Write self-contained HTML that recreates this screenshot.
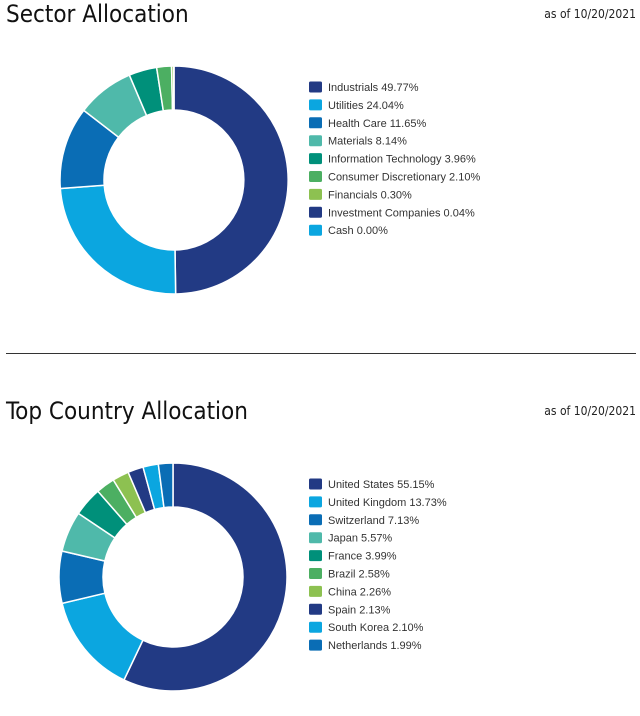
<!DOCTYPE html>
<html><head><meta charset="utf-8"><style>
body{margin:0;background:#fff;width:640px;height:711px;overflow:hidden;font-family:"Liberation Sans","DejaVu Sans",sans-serif;}
</style></head><body>
<svg id="s" width="640" height="711" xmlns="http://www.w3.org/2000/svg">
<text x="6" y="22" font-size="24" fill="#111" font-family="DejaVu Sans Condensed, Liberation Sans Narrow, sans-serif">Sector Allocation</text>
<text x="636" y="18" font-size="12" fill="#222" text-anchor="end" font-family="DejaVu Sans Condensed, Liberation Sans, sans-serif">as of 10/20/2021</text>
<line x1="6" y1="353.5" x2="636" y2="353.5" stroke="#333" stroke-width="1"/>
<text x="6" y="419" font-size="24" fill="#111" font-family="DejaVu Sans Condensed, Liberation Sans Narrow, sans-serif">Top Country Allocation</text>
<text x="636" y="415" font-size="12" fill="#222" text-anchor="end" font-family="DejaVu Sans Condensed, Liberation Sans, sans-serif">as of 10/20/2021</text>
<g id="g1"></g><g id="g2"></g>
</svg>
<script>
const sectorLabels=["Industrials","Utilities","Health Care","Materials","Information Technology","Consumer Discretionary","Financials","Investment Companies","Cash"];
const sectorValues=[49.77,24.04,11.65,8.14,3.96,2.10,0.30,0.04,0.00];
const countryLabels=["United States","United Kingdom","Switzerland","Japan","France","Brazil","China","Spain","South Korea","Netherlands"];
const countryValues=[55.15,13.73,7.13,5.57,3.99,2.58,2.26,2.13,2.10,1.99];
const colors=["#223a84","#0ba6e0","#0a6db5","#4fb9aa","#00907a","#4caf62","#8dc151","#223a84","#0ba6e0","#0a6db5"];
const NS="http://www.w3.org/2000/svg";
function draw(gid,labels,values,cx,cy,ro,ri,lx,ly,name){
  const g=document.getElementById(gid);
  const tot=values.reduce((a,b)=>a+b,0);
  let a0=-Math.PI/2;
  values.forEach((v,i)=>{
    if(v<=0)return;
    const a1=a0+v/tot*2*Math.PI;
    const large=(a1-a0)>Math.PI?1:0;
    const p=(r,a)=>(cx+r*Math.cos(a)).toFixed(2)+","+(cy+r*Math.sin(a)).toFixed(2);
    const d="M"+p(ro,a0)+"A"+ro+","+ro+" 0 "+large+" 1 "+p(ro,a1)+"L"+p(ri,a1)+"A"+ri+","+ri+" 0 "+large+" 0 "+p(ri,a0)+"Z";
    const path=document.createElementNS(NS,"path");
    path.setAttribute("d",d);path.setAttribute("fill",colors[i]);
    path.setAttribute("stroke","#fff");path.setAttribute("stroke-width","1.5");
    
    
    g.appendChild(path);
    a0=a1;
  });
  labels.forEach((l,i)=>{
    const y=ly+i*17.9;
    const r=document.createElementNS(NS,"rect");
    r.setAttribute("x",lx);r.setAttribute("y",y-5.5);r.setAttribute("width",13);r.setAttribute("height",11);
    r.setAttribute("rx",1.5);r.setAttribute("fill",colors[i]);
    
    
    g.appendChild(r);
    const t=document.createElementNS(NS,"text");
    t.setAttribute("x",lx+19);t.setAttribute("y",y+4);t.setAttribute("font-size","11");t.setAttribute("fill","#333");
    t.textContent=l+" "+values[i].toFixed(2)+"%";
    
    
    g.appendChild(t);
  });
}
draw("g1",sectorLabels,sectorValues,174,180,114,70,309,87,"sector");
draw("g2",countryLabels,countryValues,173,577,114,70,309,484,"country");
</script>
</body></html>
